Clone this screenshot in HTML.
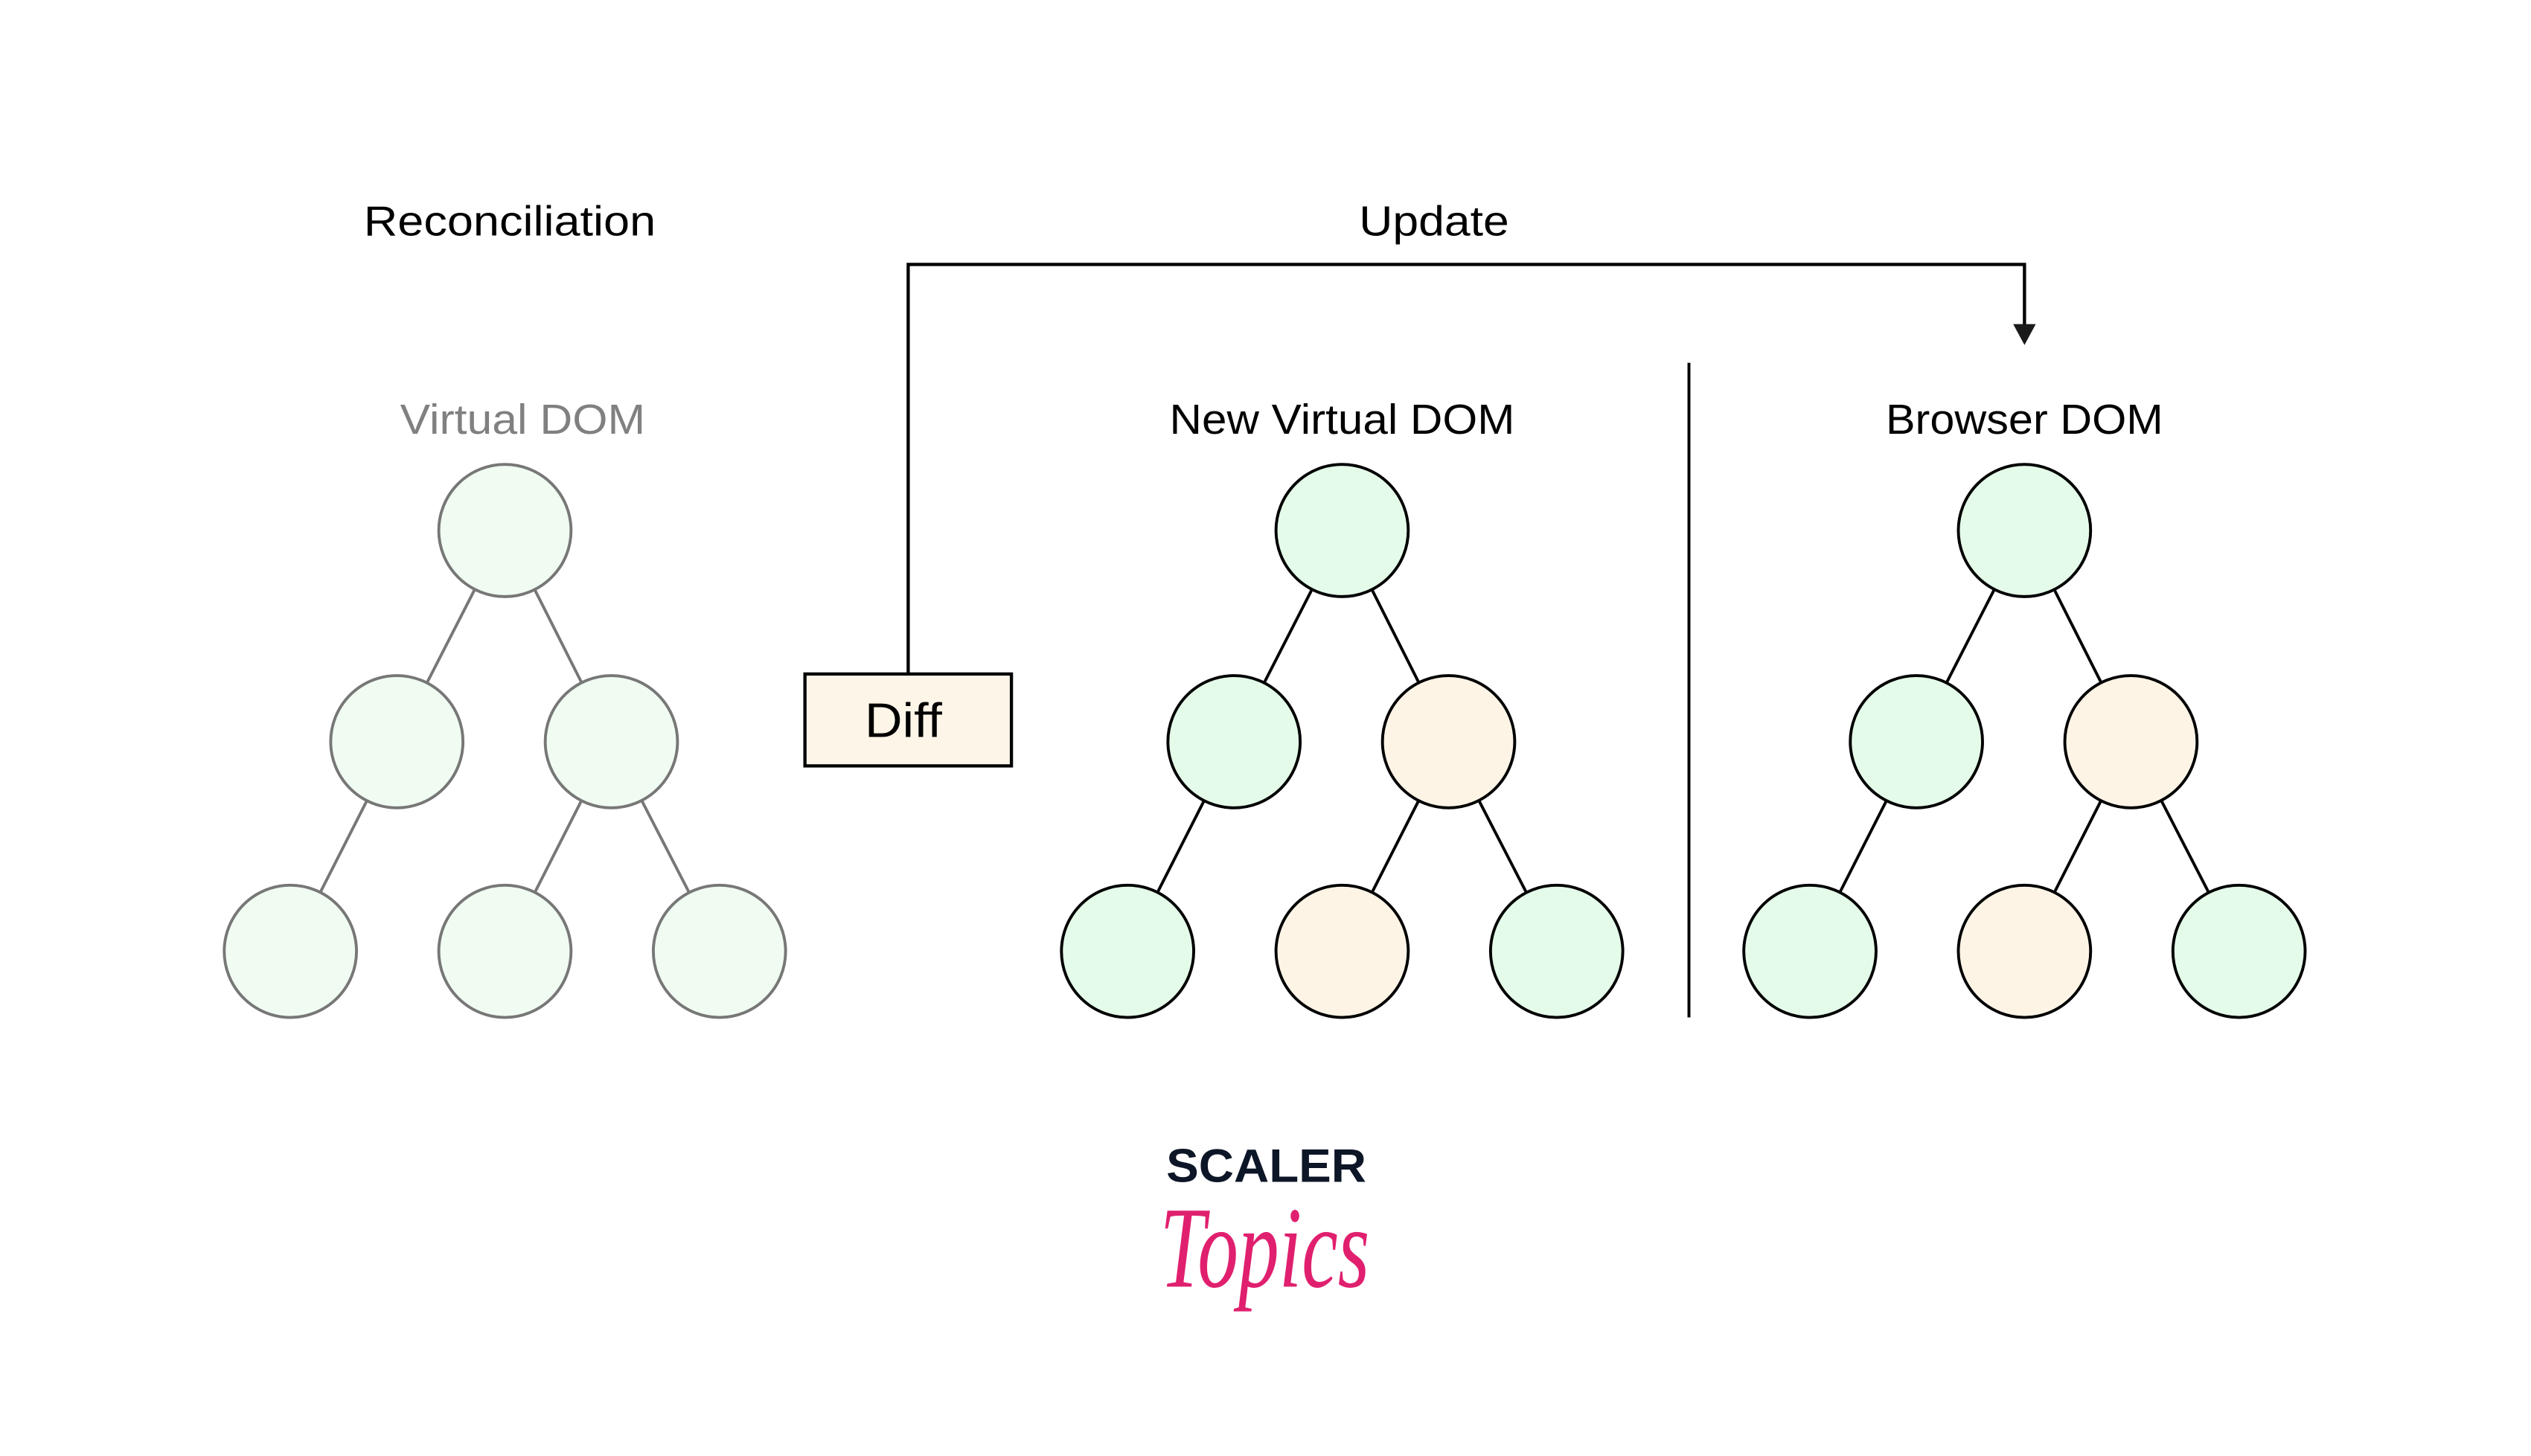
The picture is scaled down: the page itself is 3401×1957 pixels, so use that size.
<!DOCTYPE html>
<html><head><meta charset="utf-8"><style>
html,body{margin:0;padding:0;background:#fff;}
svg{display:block;}
text{font-family:"Liberation Sans",sans-serif;}
</style></head><body>
<svg width="3401" height="1957" viewBox="0 0 1569 903" preserveAspectRatio="none" xmlns="http://www.w3.org/2000/svg">
<rect width="1569" height="903" fill="#fff"/>
<text x="316" y="146" font-size="26" text-anchor="middle" textLength="181" lengthAdjust="spacingAndGlyphs" fill="#000">Reconciliation</text>
<text x="889" y="146" font-size="26" text-anchor="middle" textLength="93" lengthAdjust="spacingAndGlyphs" fill="#000">Update</text>
<polyline points="563,418 563,164 1255,164 1255,203" fill="none" stroke="#000" stroke-width="2"/>
<polygon points="1248,201 1262,201 1255,214" fill="#1a1a1a"/>
<rect x="499" y="418" width="128" height="57" fill="#fdf5e8" stroke="#000" stroke-width="2"/>
<text x="560" y="457" font-size="30" text-anchor="middle" textLength="48" lengthAdjust="spacingAndGlyphs" fill="#000">Diff</text>
<text x="324" y="269" font-size="26" text-anchor="middle" textLength="152" lengthAdjust="spacingAndGlyphs" fill="#808080">Virtual DOM</text>
<text x="832" y="269" font-size="26" text-anchor="middle" textLength="214" lengthAdjust="spacingAndGlyphs" fill="#000">New Virtual DOM</text>
<text x="1255" y="269" font-size="26" text-anchor="middle" textLength="172" lengthAdjust="spacingAndGlyphs" fill="#000">Browser DOM</text>
<line x1="1047" y1="225" x2="1047" y2="631" stroke="#000" stroke-width="1.8"/>
<g stroke="#777" stroke-width="1.8">
<line x1="313" y1="329" x2="246" y2="460"/><line x1="313" y1="329" x2="379" y2="460"/>
<line x1="246" y1="460" x2="180" y2="590"/><line x1="379" y1="460" x2="313" y2="590"/><line x1="379" y1="460" x2="446" y2="590"/>
<g fill="#f0fcf1">
<circle cx="313" cy="329" r="41"/><circle cx="246" cy="460" r="41"/><circle cx="379" cy="460" r="41"/>
<circle cx="180" cy="590" r="41"/><circle cx="313" cy="590" r="41"/><circle cx="446" cy="590" r="41"/>
</g></g>
<g stroke="#000" stroke-width="1.8">
<line x1="832" y1="329" x2="765" y2="460"/><line x1="832" y1="329" x2="898" y2="460"/>
<line x1="765" y1="460" x2="699" y2="590"/><line x1="898" y1="460" x2="832" y2="590"/><line x1="898" y1="460" x2="965" y2="590"/>
<circle cx="832" cy="329" r="41" fill="#e4fbe9"/><circle cx="765" cy="460" r="41" fill="#e4fbe9"/><circle cx="898" cy="460" r="41" fill="#fdf4e6"/>
<circle cx="699" cy="590" r="41" fill="#e4fbe9"/><circle cx="832" cy="590" r="41" fill="#fdf4e6"/><circle cx="965" cy="590" r="41" fill="#e4fbe9"/>
</g>
<g stroke="#000" stroke-width="1.8">
<line x1="1255" y1="329" x2="1188" y2="460"/><line x1="1255" y1="329" x2="1321" y2="460"/>
<line x1="1188" y1="460" x2="1122" y2="590"/><line x1="1321" y1="460" x2="1255" y2="590"/><line x1="1321" y1="460" x2="1388" y2="590"/>
<circle cx="1255" cy="329" r="41" fill="#e4fbe9"/><circle cx="1188" cy="460" r="41" fill="#e4fbe9"/><circle cx="1321" cy="460" r="41" fill="#fdf4e6"/>
<circle cx="1122" cy="590" r="41" fill="#e4fbe9"/><circle cx="1255" cy="590" r="41" fill="#fdf4e6"/><circle cx="1388" cy="590" r="41" fill="#e4fbe9"/>
</g>
<text x="785" y="733" font-size="29" font-weight="bold" text-anchor="middle" textLength="124" lengthAdjust="spacingAndGlyphs" fill="#0d1627">SCALER</text>
<text x="784" y="798" font-size="72" text-anchor="middle" textLength="130" lengthAdjust="spacingAndGlyphs" fill="#e0206f" style="font-family:'Liberation Serif',serif;font-style:italic">Topics</text>
</svg>
</body></html>
